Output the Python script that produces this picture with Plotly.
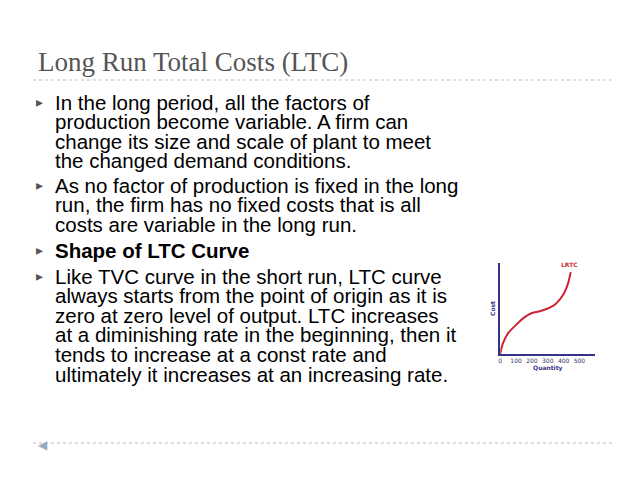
import plotly.graph_objects as go

# slide text
title = "Long Run Total Costs (LTC)"
bullet_lines = [
    ["In the long period, all the factors of",
     "production become variable. A firm can",
     "change its size and scale of plant to meet",
     "the changed demand conditions."],
    ["As no factor of production is fixed in the long",
     "run, the firm has no fixed costs that is all",
     "costs are variable in the long run."],
    ["<b>Shape of LTC Curve</b>"],
    ["Like TVC curve in the short run, LTC curve",
     "always starts from the point of origin as it is",
     "zero at zero level of output. LTC increases",
     "at a diminishing rate in the beginning, then it",
     "tends to increase at a const rate and",
     "ultimately it increases at an increasing rate."],
]
bullet_tops = [102, 185, 250, 276]

# LRTC curve
quantity = [0, 10, 25, 50, 100, 150, 200, 250, 300, 350, 400, 425, 445]
cost = [0, 8, 15, 23, 32, 40, 45, 47, 50, 55, 66, 76, 90]

W, H = 638, 478
fig = go.Figure()
fig.add_trace(go.Scatter(x=quantity, y=cost, mode="lines", line=dict(color="#cc2233", width=2, shape="spline"),
                         showlegend=False))

# page coords -> paper fractions (corrected for the page offset seen in render)
def px(x): return (x - 12 - 4 * (x - 35) / 587) / W
def py(y): return 1 - (y - 8) / H

ann = [dict(x=px(38), y=py(62), xref="paper", yref="paper", xanchor="left", yanchor="middle",
            text=title, showarrow=False, font=dict(family="Liberation Serif", size=27, color="#555555"))]
for lines, top in zip(bullet_lines, bullet_tops):
    ann.append(dict(x=px(36), y=py(top), xref="paper", yref="paper", xanchor="left", yanchor="middle",
                    text="▸", showarrow=False, font=dict(family="DejaVu Sans", size=14, color="#555555")))
    for i, ln in enumerate(lines):
        ann.append(dict(x=px(55), y=py(top + i * 19.6), xref="paper", yref="paper", xanchor="left",
                        yanchor="middle", text=ln, showarrow=False,
                        font=dict(family="Liberation Sans", size=20.5, color="black")))
ann.append(dict(x=440, y=90, xref="x", yref="y", text="<b>LRTC</b>", showarrow=False, yshift=8,
                font=dict(family="DejaVu Sans", size=6, color="#cc2233")))
ann.append(dict(x=px(38), y=py(455), xref="paper", yref="paper", text="◀", showarrow=False,
                font=dict(size=12, color="#9aabbf")))

shapes = [dict(type="line", xref="paper", yref="paper", x0=px(35), x1=px(622), y0=py(y), y1=py(y),
               line=dict(color="#bbbbbb", width=1, dash="dot")) for y in (80, 443)]

fig.update_layout(
    width=W, height=H, margin=dict(l=0, r=0, t=0, b=0),
    paper_bgcolor="white", plot_bgcolor="white",
    annotations=ann, shapes=shapes,
    xaxis=dict(domain=[px(507), px(603)], range=[0, 600], tickvals=[0, 100, 200, 300, 400, 500],
               showgrid=False, zeroline=False, showline=True, linecolor="#333388", linewidth=1.5,
               tickfont=dict(family="DejaVu Sans", size=6, color="#333366"),
               title=dict(text="<b>Quantity</b>", font=dict(family="DejaVu Sans", size=6, color="#333388"), standoff=2)),
    yaxis=dict(domain=[py(354), py(263)], range=[0, 100], showticklabels=False, ticks="",
               showgrid=False, zeroline=False, showline=True, linecolor="#333388", linewidth=1.5,
               title=dict(text="<b>Cost</b>", font=dict(family="DejaVu Sans", size=6, color="#333388"), standoff=2)),
)
fig.write_html("out.html")
